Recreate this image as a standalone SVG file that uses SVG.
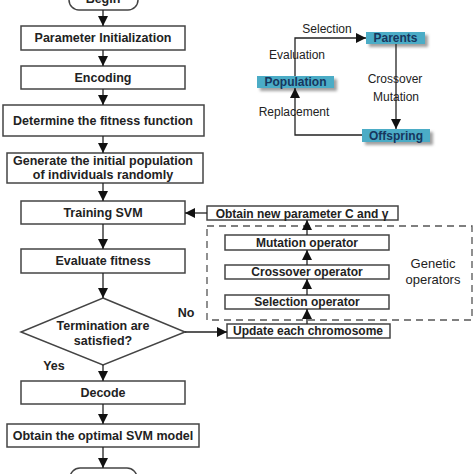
<svg xmlns="http://www.w3.org/2000/svg" width="474" height="474" viewBox="0 0 474 474">
<defs>
<marker id="ah" viewBox="0 0 10 10" refX="10" refY="5" markerWidth="10" markerHeight="10" markerUnits="userSpaceOnUse" orient="auto">
<path d="M0,0 L10,5 L0,10 Z" fill="#111"/>
</marker>
<filter id="sh" x="-20%" y="-40%" width="150%" height="200%">
<feDropShadow dx="3" dy="3" stdDeviation="1.5" flood-color="#777" flood-opacity="0.7"/>
</filter>
<style>
.box{fill:#fff;stroke:#444;stroke-width:1.5}
.t{font-family:"Liberation Sans",Arial,sans-serif;font-size:12.5px;font-weight:bold;fill:#222;text-anchor:middle}
.s{font-family:"Liberation Sans",Arial,sans-serif;font-size:12px;font-weight:bold;fill:#222;text-anchor:middle}
.r{font-family:"Liberation Sans",Arial,sans-serif;font-size:12px;fill:#222;text-anchor:middle}
.g{font-family:"Liberation Sans",Arial,sans-serif;font-size:13px;fill:#222;text-anchor:middle}
.cy{fill:#4bacc6;filter:url(#sh)}
.ct{font-family:"Liberation Sans",Arial,sans-serif;font-size:12px;font-weight:bold;fill:#17365d;text-anchor:middle}
.ln{fill:none;stroke:#222;stroke-width:1.3}
</style>
</defs>
<rect width="474" height="474" fill="#fff"/>

<g id="begin"><rect class="box" x="69" y="-14" width="69" height="24" rx="10"/><text class="t" x="103" y="3">Begin</text></g>
<g id="param"><rect class="box" x="21" y="26" width="164" height="24"/><text class="t" x="103" y="42">Parameter Initialization</text></g>
<g id="encoding"><rect class="box" x="21" y="66" width="164" height="23"/><text class="t" x="103" y="82">Encoding</text></g>
<g id="fitfunc"><rect class="box" x="3" y="105" width="201" height="31"/><text class="t" x="103" y="125">Determine the fitness function</text></g>
<g id="generate"><rect class="box" x="7" y="153" width="196" height="30"/><text class="t" x="103" y="165">Generate the initial population</text><text class="t" x="103" y="179">of individuals randomly</text></g>
<g id="training"><rect class="box" x="21" y="201" width="164" height="23"/><text class="t" x="103" y="217">Training SVM</text></g>
<g id="evalfit"><rect class="box" x="21" y="249" width="164" height="24"/><text class="t" x="103" y="265">Evaluate fitness</text></g>
<g id="term"><polygon class="box" points="103,298 185,332 103,365 21,332"/><text class="t" x="103" y="330">Termination are</text><text class="t" x="103" y="345">satisfied?</text></g>
<g id="decode"><rect class="box" x="21" y="381" width="164" height="23"/><text class="t" x="103" y="397">Decode</text></g>
<g id="optimal"><rect class="box" x="7" y="424" width="192" height="23"/><text class="t" x="103" y="440">Obtain the optimal SVM model</text></g>
<g id="end"><rect class="box" x="70" y="468" width="67" height="24" rx="10"/></g>

<g id="newparam"><rect class="box" x="207" y="206" width="191" height="14"/><text class="s" x="302" y="218">Obtain new parameter C and γ</text></g>
<g id="genetic"><rect x="207" y="226" width="265" height="94" fill="none" stroke="#555" stroke-width="1.3" stroke-dasharray="7,5"/><text class="g" x="433" y="268">Genetic</text><text class="g" x="433" y="284">operators</text></g>
<g id="mutation"><rect class="box" x="225" y="235" width="164" height="15"/><text class="s" x="307" y="247">Mutation operator</text></g>
<g id="crossover"><rect class="box" x="225" y="265" width="164" height="14"/><text class="s" x="307" y="276">Crossover operator</text></g>
<g id="selection"><rect class="box" x="225" y="295" width="164" height="14"/><text class="s" x="307" y="306">Selection operator</text></g>
<g id="update"><rect class="box" x="227" y="324" width="163" height="14"/><text class="s" x="308" y="335">Update each chromosome</text></g>

<g id="parents"><rect class="cy" x="366" y="32" width="59" height="12"/><text class="ct" x="395.5" y="42">Parents</text></g>
<g id="population"><rect class="cy" x="257" y="76" width="77" height="12"/><text class="ct" x="295.5" y="86">Population</text></g>
<g id="offspring"><rect class="cy" x="362" y="129" width="68" height="13"/><text class="ct" x="396" y="140">Offspring</text></g>

<g id="labels">
<text class="t" x="54" y="370">Yes</text>
<text class="t" x="186" y="317">No</text>
<text class="r" x="327" y="33">Selection</text>
<text class="r" x="297" y="59">Evaluation</text>
<text class="r" x="294" y="116">Replacement</text>
<text class="r" x="395" y="83">Crossover</text>
<text class="r" x="396" y="101">Mutation</text>
</g>

<g id="connectors" class="ln">
<line x1="103" y1="10" x2="103" y2="26" marker-end="url(#ah)"/>
<line x1="103" y1="50" x2="103" y2="66" marker-end="url(#ah)"/>
<line x1="103" y1="89" x2="103" y2="105" marker-end="url(#ah)"/>
<line x1="103" y1="136" x2="103" y2="153" marker-end="url(#ah)"/>
<line x1="103" y1="183" x2="103" y2="201" marker-end="url(#ah)"/>
<line x1="103" y1="224" x2="103" y2="249" marker-end="url(#ah)"/>
<line x1="103" y1="273" x2="103" y2="298" marker-end="url(#ah)"/>
<line x1="103" y1="365" x2="103" y2="381" marker-end="url(#ah)"/>
<line x1="103" y1="404" x2="103" y2="424" marker-end="url(#ah)"/>
<line x1="103" y1="447" x2="103" y2="468" marker-end="url(#ah)"/>
<line x1="185" y1="332" x2="227" y2="332" marker-end="url(#ah)"/>
<line x1="207" y1="213" x2="185" y2="213" marker-end="url(#ah)"/>
<line x1="307" y1="324" x2="307" y2="309" marker-end="url(#ah)"/>
<line x1="307" y1="295" x2="307" y2="279" marker-end="url(#ah)"/>
<line x1="307" y1="265" x2="307" y2="250" marker-end="url(#ah)"/>
<line x1="307" y1="235" x2="307" y2="220" marker-end="url(#ah)"/>
<polyline points="295,76 295,38 366,38" marker-end="url(#ah)"/>
<line x1="396" y1="44" x2="396" y2="129" marker-end="url(#ah)"/>
<polyline points="362,135 295,135 295,88" marker-end="url(#ah)"/>
</g>
</svg>
